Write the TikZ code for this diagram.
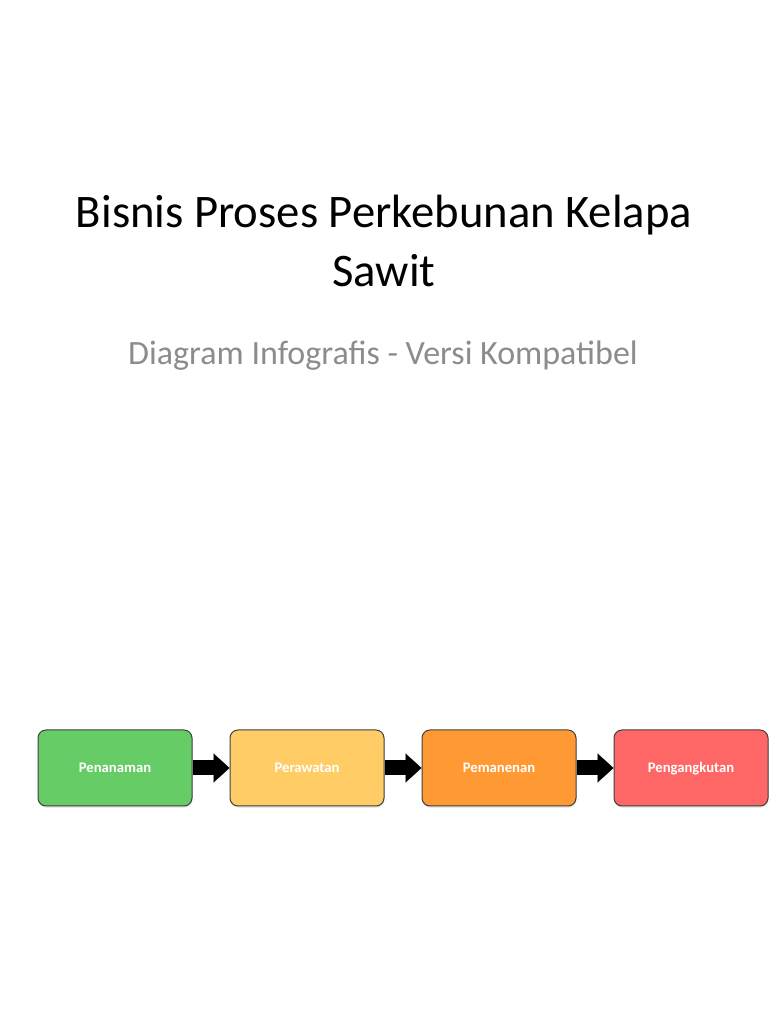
\documentclass[tikz,border=0pt]{standalone}
\usepackage{fontspec}
\setmainfont{Carlito}
\usetikzlibrary{positioning,arrows.meta,shadows}

\definecolor{plantgreen}{HTML}{66CC66}
\definecolor{careyellow}{HTML}{FFCC66}
\definecolor{harvestorange}{HTML}{FF9933}
\definecolor{haulred}{HTML}{FF6666}
\definecolor{stageborder}{HTML}{404040}
\definecolor{subgray}{HTML}{8C8C8C}
\definecolor{flowblue}{HTML}{4F81BD}

\begin{document}
\begin{tikzpicture}[x=1pt,y=1pt,node distance=144pt,on grid,
	title/.style={anchor=base,align=center,font=\fontsize{35}{44.25}\selectfont},
	subtitle/.style={anchor=base,text=subgray,font=\fontsize{25.5}{30}\selectfont},
	stage/.style={rectangle,rounded corners=6pt,draw=stageborder,line width=0.75pt,
		minimum width=115.5pt,minimum height=57pt,text=white,
		text height=8.5pt,text depth=1pt,
		font=\fontsize{11}{13}\selectfont\bfseries,
		drop shadow={shadow xshift=0.4pt,shadow yshift=-1.2pt,opacity=0.25}},
	flow/.style={draw=black,line width=11.25pt,
		-{Triangle[length=12pt,width=21.75pt,line width=0.1pt]},
		preaction={draw=flowblue,line width=12.75pt,
			-{Triangle[length=13pt,width=24pt,line width=0.1pt]}}}]
	\useasboundingbox (0,0) rectangle (576,768);
	\node[title] (title) at (288,552.75) {Bisnis Proses Perkebunan Kelapa\\Sawit};
	\node[subtitle] (subtitle) at (287.25,494.25) {Diagram Infografis - Versi Kompatibel};
	\node[stage,fill=plantgreen] (p_1) at (86.25,192) {Penanaman};
	\node[stage,fill=careyellow] (p_2) [right=of p_1] {Perawatan};
	\node[stage,fill=harvestorange] (p_3) [right=of p_2] {Pemanenan};
	\node[stage,fill=haulred] (p_4) [right=of p_3] {Pengangkutan};
	\path[flow]
		(p_1) edge (p_2)
		(p_2) edge (p_3)
		(p_3) edge (p_4);
\end{tikzpicture}
\end{document}
